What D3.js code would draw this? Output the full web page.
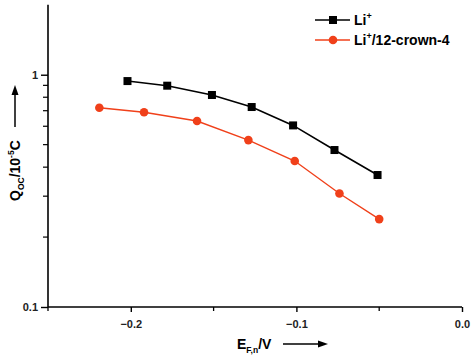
<!DOCTYPE html>
<html><head><meta charset="utf-8">
<script src="https://cdn.jsdelivr.net/npm/d3@7"></script>
<style>body{margin:0;background:#fff;} text{font-family:Arial,"Liberation Sans",sans-serif;font-weight:bold;}</style>
</head><body>
<svg id="c" width="474" height="364"></svg>
<script>
const liX = [-0.202, -0.178, -0.151, -0.127, -0.102, -0.077, -0.051];
const liY = [0.939, 0.897, 0.818, 0.726, 0.605, 0.474, 0.370];
const crX = [-0.219, -0.192, -0.160, -0.129, -0.101, -0.074, -0.050];
const crY = [0.721, 0.689, 0.632, 0.523, 0.425, 0.308, 0.239];
const xTicks = [-0.2, -0.1, 0.0];
const xMinor = [-0.25, -0.15, -0.05];
const yTicks = [0.1, 1];
const yMinor = [0.2, 0.3, 0.4, 0.5, 0.6, 0.7, 0.8, 0.9];
const seriesNames = ["Li", "Li/12-crown-4"];

const svg = d3.select("#c");
const x = d3.scaleLinear().domain([-0.25, 0.0]).range([48, 462]);
const y = d3.scaleLog().domain([0.1, 2]).range([307, 4.8]);

// axes
const gx = svg.append("g").attr("transform", "translate(0,307)")
  .call(d3.axisBottom(x).tickValues(xTicks).tickFormat(d3.format(".1f")).tickSize(5).tickPadding(8));
gx.append("g").selectAll("line").data(xMinor).join("line")
  .attr("x1", d => x(d)).attr("x2", d => x(d)).attr("y1", 0).attr("y2", 4)
  .attr("stroke", "#000").attr("stroke-width", 1.3);
const gy = svg.append("g").attr("transform", "translate(48,0)")
  .call(d3.axisLeft(y).tickValues(yTicks).tickFormat(d => d === 1 ? "1" : "0.1").tickSize(7).tickPadding(3));
gy.append("g").selectAll("line").data(yMinor).join("line")
  .attr("y1", d => y(d)).attr("y2", d => y(d)).attr("x1", 0).attr("x2", -5)
  .attr("stroke", "#000").attr("stroke-width", 1.2);
[gx, gy].forEach(g => {
  g.select(".domain").attr("stroke-width", 1.6).attr("stroke", "#000");
  g.selectAll(".tick line").attr("stroke-width", 1.4);
  g.selectAll(".tick text").attr("font-size", 11).attr("font-weight", "bold").attr("font-family", "Arial, 'Liberation Sans', sans-serif").attr("fill", "#222");
});
gy.select(".domain").attr("d", `M0,${y(2)}V${y(0.1)}`);
gx.select(".domain").attr("d", `M${x(-0.25)},0H${x(0)}`);

// series
const line = d3.line().x(d => x(d[0])).y(d => y(d[1]));
const li = liX.map((v, i) => [v, liY[i]]);
const cr = crX.map((v, i) => [v, crY[i]]);
svg.append("path").datum(li).attr("d", line).attr("fill", "none").attr("stroke", "#000").attr("stroke-width", 1.6);
svg.append("g").selectAll("rect").data(li).join("rect")
  .attr("x", d => x(d[0]) - 4).attr("y", d => y(d[1]) - 4).attr("width", 8).attr("height", 8).attr("fill", "#000");
svg.append("path").datum(cr).attr("d", line).attr("fill", "none").attr("stroke", "#f0401a").attr("stroke-width", 1.4);
svg.append("g").selectAll("circle").data(cr).join("circle")
  .attr("cx", d => x(d[0])).attr("cy", d => y(d[1])).attr("r", 4.3).attr("fill", "#f0401a");

// legend
const leg = svg.append("g");
leg.append("line").attr("x1", 315).attr("x2", 350).attr("y1", 20).attr("y2", 20).attr("stroke", "#000").attr("stroke-width", 1.6);
leg.append("rect").attr("x", 329).attr("y", 16).attr("width", 8).attr("height", 8).attr("fill", "#000");
leg.append("line").attr("x1", 315).attr("x2", 350).attr("y1", 40).attr("y2", 40).attr("stroke", "#f0401a").attr("stroke-width", 1.4);
leg.append("circle").attr("cx", 333).attr("cy", 40).attr("r", 4.3).attr("fill", "#f0401a");
const t1 = leg.append("text").attr("x", 354).attr("y", 25).attr("font-size", 14);
t1.append("tspan").text("Li");
t1.append("tspan").attr("font-size", 9).attr("dy", -6).text("+");
const t2 = leg.append("text").attr("x", 354).attr("y", 45).attr("font-size", 14);
t2.append("tspan").text("Li");
t2.append("tspan").attr("font-size", 9).attr("dy", -6).text("+");
t2.append("tspan").attr("dy", 6).text("/12-crown-4");

// x label
const xl = svg.append("text").attr("x", 237).attr("y", 349).attr("font-size", 14);
xl.append("tspan").text("E");
xl.append("tspan").attr("font-size", 8.5).attr("dy", 4).text("F,n");
xl.append("tspan").attr("dy", -4).text("/V");
svg.append("line").attr("x1", 283).attr("x2", 322).attr("y1", 344).attr("y2", 344).attr("stroke", "#000").attr("stroke-width", 1.5);
svg.append("path").attr("d", "M328,344 L318,340.5 L318,347.5 Z").attr("fill", "#000");

// y label
const yl = svg.append("text").attr("transform", "translate(20,201) rotate(-90)").attr("font-size", 14);
yl.append("tspan").text("Q");
yl.append("tspan").attr("font-size", 8.5).attr("dy", 4).text("OC");
yl.append("tspan").attr("dy", -4).text("/10");
yl.append("tspan").attr("font-size", 8.5).attr("dy", -6).text("-5");
yl.append("tspan").attr("dy", 6).text("C");
svg.append("line").attr("x1", 15).attr("x2", 15).attr("y1", 127).attr("y2", 93).attr("stroke", "#000").attr("stroke-width", 1.5);
svg.append("path").attr("d", "M15,85 L11.5,95 L18.5,95 Z").attr("fill", "#000");
</script>
</body></html>
